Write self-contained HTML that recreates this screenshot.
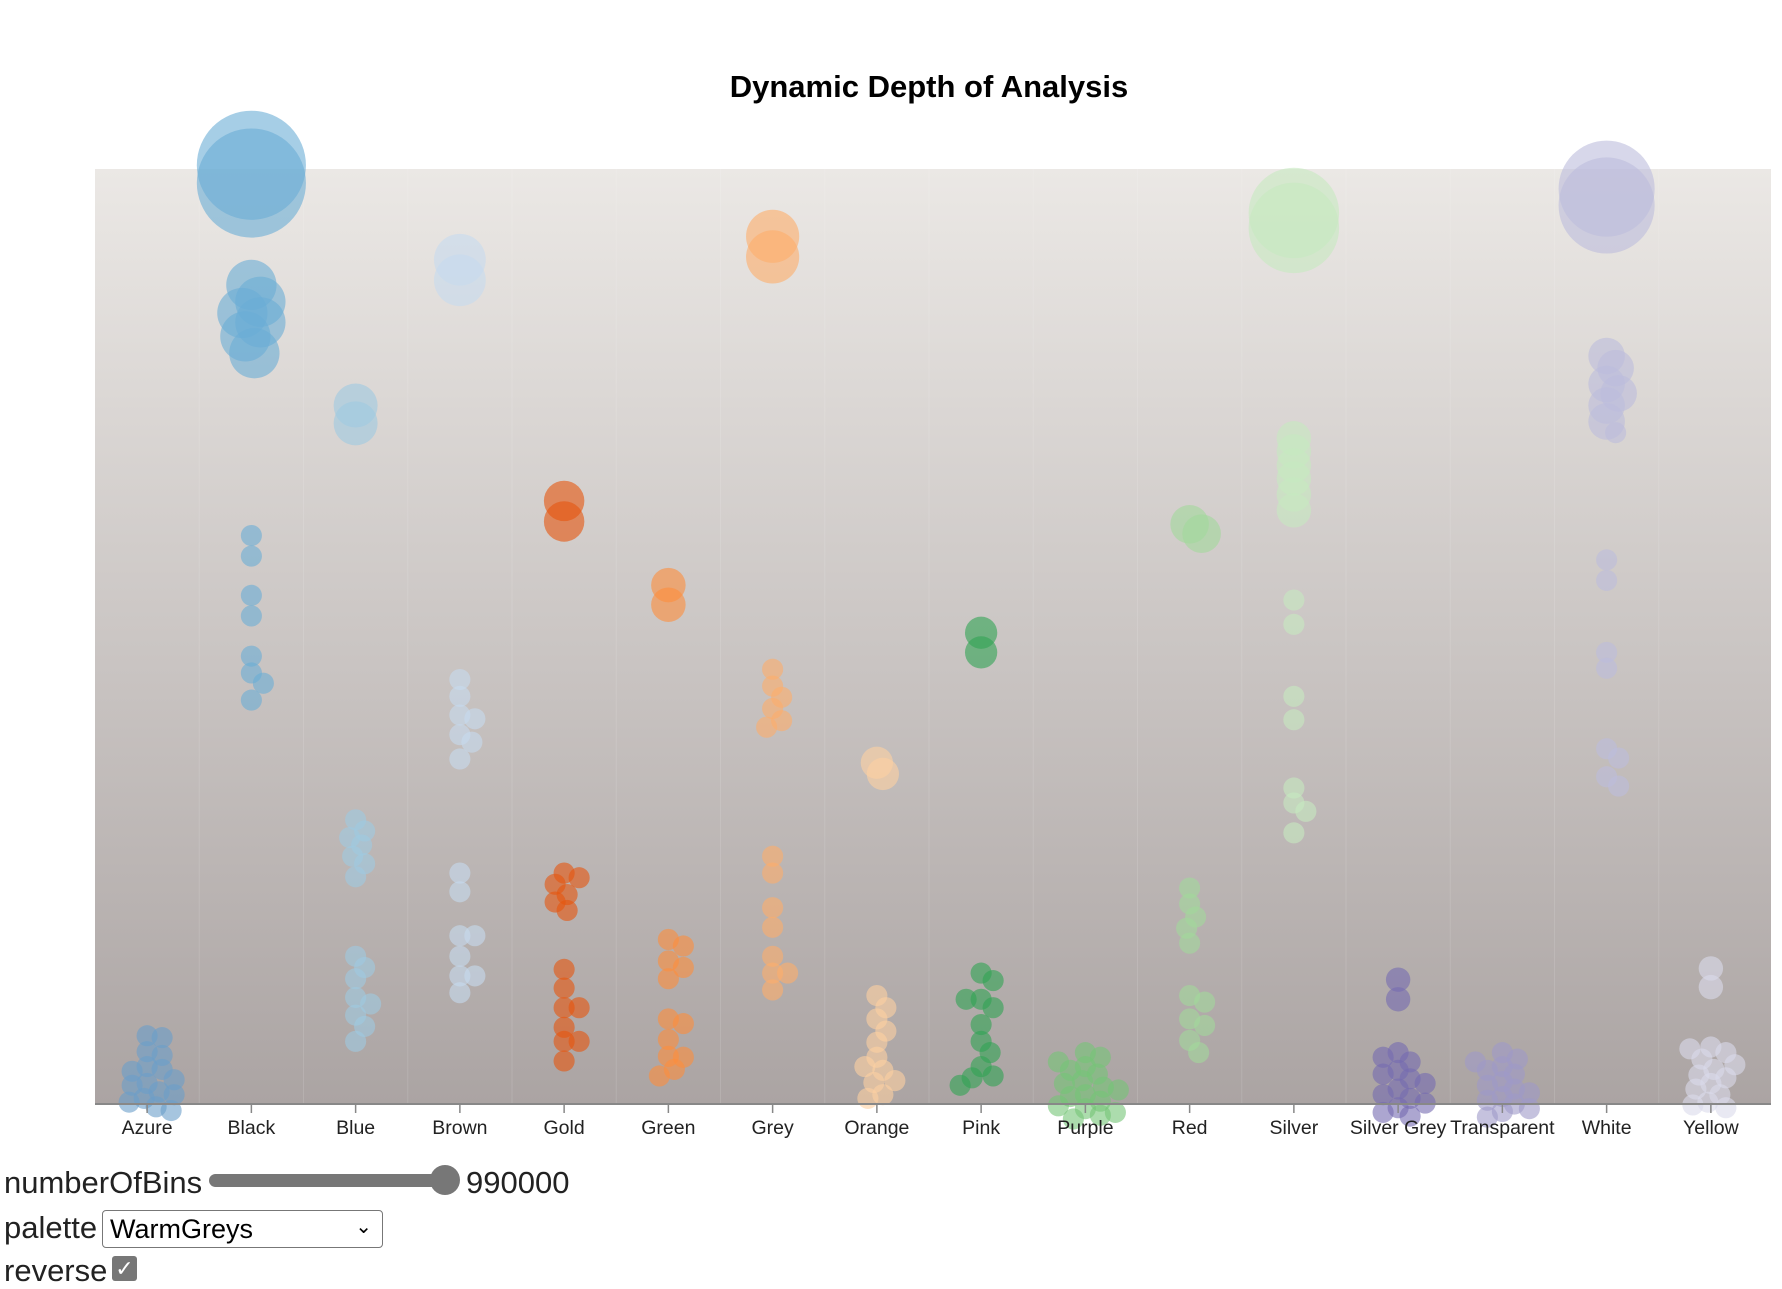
<!DOCTYPE html>
<html><head><meta charset="utf-8"><style>
body{margin:0;width:1782px;height:1286px;background:#fff;overflow:hidden;font-family:"Liberation Sans",sans-serif;position:relative}
.ctl{position:absolute;left:4px;font-size:31px;color:#222;font-family:"Liberation Sans",sans-serif}
</style></head><body>
<svg id="chart" width="1782" height="1160" style="position:absolute;left:0;top:0">
<defs><linearGradient id="bg" x1="0" y1="0" x2="0" y2="1"><stop offset="0" stop-color="#ebe8e5"/><stop offset="1" stop-color="#aba4a3"/></linearGradient></defs>
<text x="929" y="97" text-anchor="middle" font-size="31" font-weight="bold" fill="#000">Dynamic Depth of Analysis</text>
<rect x="95" y="169" width="1676" height="935" fill="url(#bg)"/>
<g id="grid"></g><g id="marks"></g><g id="axis"></g>
</svg>
<div class="ctl" style="top:1165px">numberOfBins</div>
<div style="position:absolute;left:209px;top:1174px;width:240px;height:13px;background:#777;border-radius:7px"></div>
<div style="position:absolute;left:430px;top:1165px;width:30px;height:30px;background:#777;border-radius:50%"></div>
<div class="ctl" style="top:1165px;left:466px">990000</div>
<div class="ctl" style="top:1210px">palette</div>
<div style="position:absolute;left:102px;top:1210px;width:272px;height:36px;border:1.5px solid #777;border-radius:4px;font-size:27px;font-family:'Liberation Sans',sans-serif;line-height:36px;padding-left:7px;box-sizing:content-box">WarmGreys<span style="position:absolute;right:10px;top:-2px;font-size:20px">&#8964;</span></div>
<div class="ctl" style="top:1253px">reverse</div>
<div style="position:absolute;left:112px;top:1256px;width:25px;height:25px;background:#777;border-radius:3px;color:#fff;font-size:22px;text-align:center;line-height:25px">&#10003;</div>
<script>
const categories=["Azure","Black","Blue","Brown","Gold","Green","Grey","Orange","Pink","Purple","Red","Silver","Silver Grey","Transparent","White","Yellow"];
const colors=["#6a9ec9","#6baed6","#9ecae1","#c6dbef","#e6550d","#fd8d3c","#fdae6b","#fdd0a2","#31a354","#74c476","#a1d99b","#c7e9c0","#756bb1","#9e9ac8","#bcbddc","#dadaeb"];
const values=[
[7.3,7.1,5.6,5.2,4.0,3.7,3.5,2.6,2.2,2.0,1.3,1.0,0.6,0.2,-0.3,-0.7],
[100.4,98.5,87.6,85.8,84.6,83.6,82.1,80.3,60.8,58.6,54.4,52.2,47.9,46.1,45,43.2],
[74.7,72.8,30.4,29.2,28.5,27.7,26.5,25.7,24.3,15.8,14.6,13.4,11.4,10.7,9.5,8.3,6.7],
[90.3,88.1,45.4,43.6,41.6,41.2,39.5,38.7,36.9,24.7,22.7,18,18,15.8,13.7,13.7,11.9],
[64.5,62.3,24.7,24.2,23.5,22.4,21.6,20.7,14.4,12.4,10.3,10.3,8.2,6.7,6.7,4.6],
[55.5,53.4,17.6,16.9,15.3,14.6,13.4,9.1,8.6,6.9,5.1,3.7,3.0,5.0],
[92.8,90.6,46.5,44.7,43.5,42.3,41.0,40.3,26.5,24.7,21,18.9,15.8,14,14,12.2],
[36.5,35.3,11.6,10.3,9.1,7.8,6.6,5.0,3.6,2.3,1.0,0.6,4.0,2.5],
[50.4,48.3,14,13.2,11.2,10.3,8.5,6.7,5.5,4.0,3.0,2.8,2.0,11.2],
[5.5,5.0,4.0,3.2,2.5,1.8,1.0,0.3,-0.5,-1.2,-1.6,3.6,2.2,0.8,-0.2,4.5,1.5,-0.9],
[62,61,23.1,21.4,20,18.8,17.2,11.6,10.9,9.1,8.4,6.8,5.5],
[95.3,93.7,71.2,69.8,68.3,66.9,65.2,63.5,53.9,51.3,43.6,41.1,33.8,32.2,31.3,29.0],
[13.3,11.2,5.5,4.5,3.6,2.7,1.6,0.6,-0.4,-1.3,5.0,3.2,2.2,1.0,0.1,-0.9],
[5.5,4.8,4.0,3.2,2.4,1.6,0.8,0.0,-0.8,-1.4,3.6,2.0,0.4,-0.5,4.5,1.2],
[97.9,96.1,80,78.7,77,76,74.7,73,71.8,58.2,56,48.3,46.6,38,37,35,34],
[14.5,12.5,6.1,5.5,4.8,3.7,3.1,2.2,1.0,0.2,-0.4,4.2,1.6,-0.1,5.9,2.8]];
const bigSizes=[[null],[80,80,17,17,17,17,17,17],[13,13],[18,18],[11,11],[8,8],[19,19],[7,7],[7,7],[null],[10,10],[55,55,8,8,8,8,8,8],[4,4],[null],[62,62,9,9,9,9,9,9],[4,4]];
const NS="http://www.w3.org/2000/svg";
const X0=95,X1=1771,Y0=169,Y1=1104;
const band=(1763-X0)/categories.length;
const xScale=i=>X0+band*(i+0.5);
const yScale=v=>Y1-(v/100)*(Y1-Y0);
const rScale=s=>6.1*Math.sqrt(s);
const grid=document.getElementById('grid'),marks=document.getElementById('marks'),axis=document.getElementById('axis');
for(let i=1;i<categories.length;i++){const l=document.createElementNS(NS,'line');


l.setAttribute('x1',X0+band*i);l.setAttribute('x2',X0+band*i);l.setAttribute('y1',Y0);l.setAttribute('y2',Y1);l.setAttribute('stroke','rgba(255,255,255,0.12)');grid.appendChild(l);}
categories.forEach((c,i)=>{
 const placed=[];
 values[i].forEach((v,j)=>{
  const s=(bigSizes[i][j]!=null)?bigSizes[i][j]:3;
  const r=rScale(s),y=yScale(v);
  let dx=0;
  const steps=[0];for(let k=1;k<30;k++){steps.push(k*3,-k*3);}
  for(const d of steps){let ok=true;for(const p of placed){const m=Math.min(r,p.r);const th=m>=30?10:(m<15?m*1.3:m*0.75);const dd=Math.hypot(d-p.dx,y-p.y);if(dd<th){ok=false;break;}}if(ok){dx=d;break;}}
  placed.push({dx,y,r});
  const ci=document.createElementNS(NS,'circle');
  
  
  ci.setAttribute('cx',xScale(i)+dx);ci.setAttribute('cy',y);ci.setAttribute('r',r);
  ci.setAttribute('fill',colors[i]);ci.setAttribute('fill-opacity','0.6');
  marks.appendChild(ci);
 });
});
const al=document.createElementNS(NS,'line');


al.setAttribute('x1',X0);al.setAttribute('x2',X1);al.setAttribute('y1',Y1);al.setAttribute('y2',Y1);al.setAttribute('stroke','#888');al.setAttribute('stroke-width','2');axis.appendChild(al);
categories.forEach((c,i)=>{
 const t=document.createElementNS(NS,'line');
 
 
 t.setAttribute('x1',xScale(i));t.setAttribute('x2',xScale(i));t.setAttribute('y1',Y1);t.setAttribute('y2',Y1+9);t.setAttribute('stroke','#888');t.setAttribute('stroke-width','1.5');axis.appendChild(t);
 const tx=document.createElementNS(NS,'text');
 
 
 tx.setAttribute('x',xScale(i));tx.setAttribute('y',Y1+30);tx.setAttribute('text-anchor','middle');tx.setAttribute('font-size','19.5');tx.setAttribute('fill','#222');tx.textContent=c;axis.appendChild(tx);
});
</script>
</body></html>
